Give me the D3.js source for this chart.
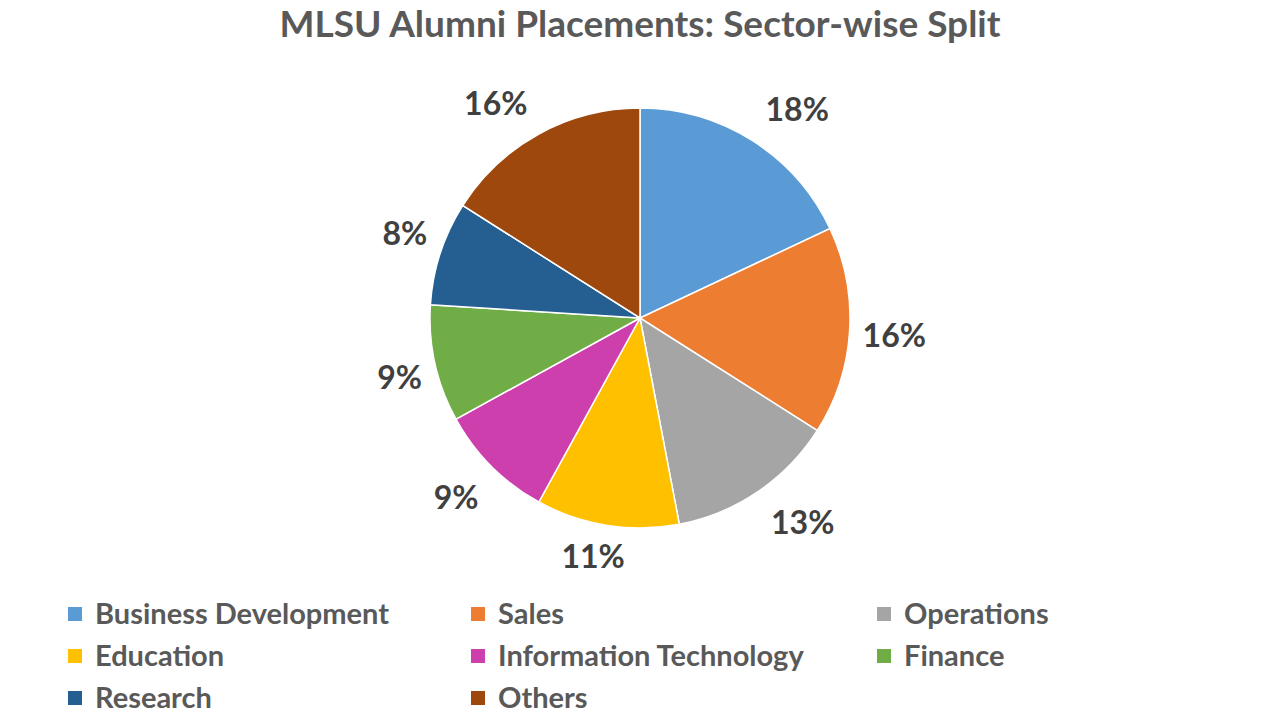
<!DOCTYPE html>
<html>
<head>
<meta charset="utf-8">
<script src="https://cdn.jsdelivr.net/npm/d3@7"></script>
<style>
  body { margin: 0; background: #fff; }
  text { font-family: Lato, "Open Sans", sans-serif; font-weight: bold; }
</style>
</head>
<body>
<svg id="pieChart" width="1280" height="720"></svg>
<script>
var sectors = ["Business Development", "Sales", "Operations", "Education",
    "Information Technology", "Finance", "Research", "Others"];
var shares = [18, 16, 13, 11, 9, 9, 8, 16];
var colors = ["#5b9bd5", "#ed7d31", "#a5a5a5", "#ffc000",
    "#cc3fac", "#70ad47", "#255e91", "#9e480e"];

(function pieChart() {
    var svg = d3.select("#pieChart"),
        cx = 640, cy = 318, radius = 210;

    var data = sectors.map(function (s, i) {
        return { sector: s, value: shares[i] };
    });

    var color = d3.scaleOrdinal().domain(sectors).range(colors);

    var pie = d3.pie().sort(null).value(function (d) { return d.value; });

    var path = d3.arc().outerRadius(radius).innerRadius(0);

    var g = svg.append("g")
        .attr("transform", "translate(" + cx + "," + cy + ")");

    var arc = g.selectAll(".arc")
        .data(pie(data))
        .enter().append("g")
        .attr("class", "arc");

    arc.append("path")
        .attr("d", path)
        .attr("fill", function (d) { return color(d.data.sector); })
        .attr("stroke", "#fff")
        .attr("stroke-width", 1.5);

    // labels sit just outside the rim, pushed out by their own box size
    var clamp = function (v) { return Math.max(-1, Math.min(1, v * 2)); };
    arc.append("text")
        .attr("text-anchor", "middle")
        .attr("dy", "0.36em")
        .style("font-size", "32px")
        .attr("fill", "#404040")
        .text(function (d) { return d.data.value + "%"; })
        .attr("transform", function (d) {
            var bb = this.getBBox(),
                a = (d.startAngle + d.endAngle) / 2,
                s = Math.sin(a), c = Math.cos(a),
                x = radius * s + clamp(s) * (bb.width / 2 + 13),
                y = -radius * c - clamp(c) * (13 + 18);
            return "translate(" + x + "," + y + ")";
        });

    // title
    svg.append("text")
        .attr("x", 640)
        .attr("y", 37)
        .attr("text-anchor", "middle")
        .attr("fill", "#595959")
        .style("font-size", "37px")
        .text("MLSU Alumni Placements: Sector-wise Split");

    // legend, 3 columns
    var colX = [68, 471, 877], rowY = [614, 656, 698];
    var legend = svg.selectAll(".legend")
        .data(sectors)
        .enter().append("g")
        .attr("class", "legend")
        .attr("transform", function (d, i) {
            return "translate(" + colX[i % 3] + "," + rowY[Math.floor(i / 3)] + ")";
        });

    legend.append("rect")
        .attr("x", 0)
        .attr("y", -7)
        .attr("width", 14)
        .attr("height", 14)
        .attr("fill", function (d) { return color(d); });

    legend.append("text")
        .attr("x", 27)
        .attr("dy", "0.35em")
        .attr("fill", "#595959")
        .style("font-size", "29px")
        .text(function (d) { return d; });
}());
</script>
</body>
</html>
